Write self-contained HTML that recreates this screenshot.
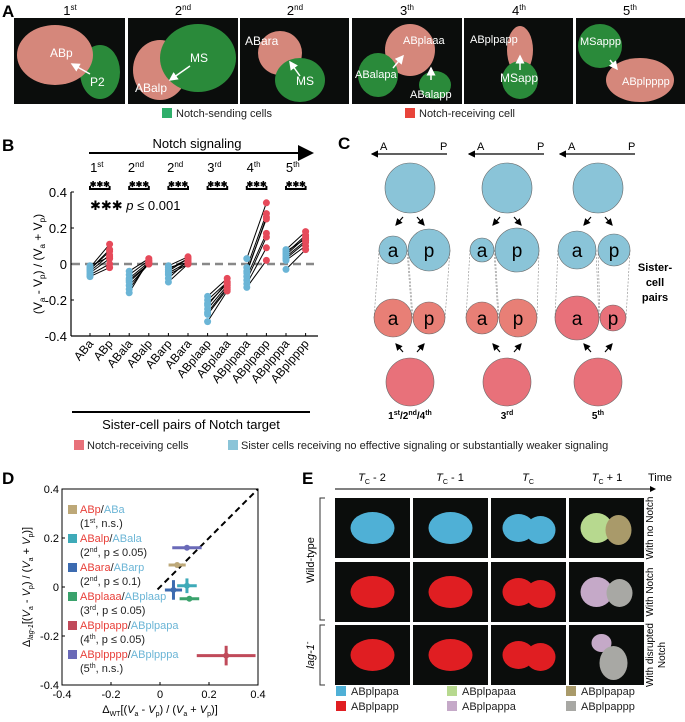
<!DOCTYPE html>
<html><head><meta charset="utf-8"><style>
body{margin:0;background:#fff;}
svg{display:block;font-family:"Liberation Sans",Arial,sans-serif;}
</style></head><body>
<svg id="fig" width="685" height="722" viewBox="0 0 685 722" xmlns="http://www.w3.org/2000/svg">
<defs>
<marker id="ah" markerWidth="8" markerHeight="8" refX="7" refY="4" orient="auto"><path d="M0,0 L8,4 L0,8 z" fill="#000"/></marker>
<marker id="ahs" markerWidth="6" markerHeight="6" refX="5" refY="3" orient="auto"><path d="M0,0 L6,3 L0,6 z" fill="#000"/></marker>
<marker id="ahw" markerWidth="6" markerHeight="6" refX="5" refY="3" orient="auto"><path d="M0,0 L6,3 L0,6 z" fill="#fff"/></marker>
</defs>

<!-- PANEL A -->
<g>
<text x="2" y="17" font-size="17" font-weight="bold">A</text>
<g font-size="13" text-anchor="middle">
<text x="70" y="15">1<tspan font-size="8" dy="-5">st</tspan></text>
<text x="183" y="15">2<tspan font-size="8" dy="-5">nd</tspan></text>
<text x="295" y="15">2<tspan font-size="8" dy="-5">nd</tspan></text>
<text x="407" y="15">3<tspan font-size="8" dy="-5">th</tspan></text>
<text x="519" y="15">4<tspan font-size="8" dy="-5">th</tspan></text>
<text x="630" y="15">5<tspan font-size="8" dy="-5">th</tspan></text>
</g>
<g><rect x="14" y="18" width="111" height="86" fill="#0b0d0c"/>
<ellipse cx="100" cy="72" rx="20" ry="27" fill="#2a8a3a"/><ellipse cx="55" cy="55" rx="38" ry="30" fill="#d5877b"/>
<text x="50" y="57" font-size="12" fill="#fff">ABp</text><text x="90" y="86" font-size="12" fill="#fff">P2</text>
<line x1="90" y1="74" x2="72" y2="64" stroke="#fff" stroke-width="1.5" marker-end="url(#ahw)"/></g>
<g><rect x="128" y="18" width="110" height="86" fill="#0b0d0c"/>
<ellipse cx="160" cy="70" rx="27" ry="30" fill="#d5877b"/><ellipse cx="198" cy="58" rx="38" ry="34" fill="#2a8a3a"/>
<text x="190" y="62" font-size="12" fill="#fff">MS</text><text x="135" y="92" font-size="12" fill="#fff">ABalp</text>
<line x1="190" y1="66" x2="170" y2="80" stroke="#fff" stroke-width="1.5" marker-end="url(#ahw)"/></g>
<g><rect x="240" y="18" width="109" height="86" fill="#0b0d0c"/>
<ellipse cx="280" cy="53" rx="22" ry="22" fill="#d5877b"/><ellipse cx="300" cy="80" rx="25" ry="22" fill="#2a8a3a"/>
<text x="245" y="45" font-size="12" fill="#fff">ABara</text><text x="296" y="85" font-size="12" fill="#fff">MS</text>
<line x1="300" y1="76" x2="290" y2="62" stroke="#fff" stroke-width="1.5" marker-end="url(#ahw)"/></g>
<g><rect x="352" y="18" width="110" height="86" fill="#0b0d0c"/>
<ellipse cx="410" cy="50" rx="25" ry="26" fill="#d5877b"/><ellipse cx="378" cy="75" rx="20" ry="22" fill="#2a8a3a"/><ellipse cx="435" cy="85" rx="16" ry="14" fill="#2a8a3a"/>
<text x="403" y="44" font-size="11" fill="#fff">ABplaaa</text><text x="355" y="78" font-size="11" fill="#fff">ABalapa</text><text x="410" y="98" font-size="11" fill="#fff">ABalapp</text>
<line x1="393" y1="68" x2="403" y2="56" stroke="#fff" stroke-width="1.5" marker-end="url(#ahw)"/><line x1="431" y1="80" x2="431" y2="68" stroke="#fff" stroke-width="1.5" marker-end="url(#ahw)"/></g>
<g><rect x="464" y="18" width="109" height="86" fill="#0b0d0c"/>
<ellipse cx="520" cy="50" rx="13" ry="24" fill="#d5877b"/><ellipse cx="520" cy="80" rx="18" ry="19" fill="#2a8a3a"/>
<text x="470" y="43" font-size="11" fill="#fff">ABplpapp</text><text x="500" y="82" font-size="12" fill="#fff">MSapp</text>
<line x1="520" y1="70" x2="520" y2="56" stroke="#fff" stroke-width="1.5" marker-end="url(#ahw)"/></g>
<g><rect x="576" y="18" width="109" height="86" fill="#0b0d0c"/>
<ellipse cx="600" cy="46" rx="22" ry="22" fill="#2a8a3a"/><ellipse cx="640" cy="80" rx="34" ry="22" fill="#d5877b"/>
<text x="580" y="45" font-size="11" fill="#fff">MSappp</text><text x="622" y="85" font-size="11" fill="#fff">ABplpppp</text>
<line x1="610" y1="60" x2="617" y2="69" stroke="#fff" stroke-width="1.5" marker-end="url(#ahw)"/></g>
<rect x="162" y="108" width="10" height="10" fill="#2eaf6a"/>
<text x="176" y="117" font-size="11" fill="#222">Notch-sending cells</text>
<rect x="405" y="108" width="10" height="10" fill="#e8443a"/>
<text x="419" y="117" font-size="11" fill="#222">Notch-receiving cell</text>
</g>

<!-- PANEL B -->
<g id="panelB">
<text x="2" y="151" font-size="17" font-weight="bold">B</text>
<text x="197" y="148" font-size="13" text-anchor="middle">Notch signaling</text>
<line x1="89" y1="153" x2="312" y2="153" stroke="#000" stroke-width="2" marker-end="url(#ah)"/>
<text x="90" y="210" font-size="13">✱✱✱  <tspan font-style="italic">p</tspan> ≤ 0.001</text>
<text transform="translate(42,264) rotate(-90)" font-size="12" text-anchor="middle">(V<tspan font-size="8" dy="3">a</tspan><tspan dy="-3"> - V</tspan><tspan font-size="8" dy="3">p</tspan><tspan dy="-3">) / (V</tspan><tspan font-size="8" dy="3">a</tspan><tspan dy="-3"> + V</tspan><tspan font-size="8" dy="3">p</tspan><tspan dy="-3">)</tspan></text>
<line x1="72" y1="412" x2="310" y2="412" stroke="#000" stroke-width="2"/>
<text x="191" y="429" font-size="13" text-anchor="middle">Sister-cell pairs of Notch target</text>
<rect x="74" y="440" width="10" height="10" fill="#e8717a"/>
<text x="87" y="449" font-size="11" fill="#222">Notch-receiving cells</text>
<rect x="228" y="440" width="10" height="10" fill="#8ac4d8"/>
<text x="241" y="449" font-size="11" fill="#222">Sister cells receiving no effective signaling or substantially weaker signaling</text>
</g>

<!-- PANEL C -->
<g id="panelC">
<text x="338" y="149" font-size="17" font-weight="bold">C</text>
<text x="655" y="271" font-size="11" font-weight="bold" text-anchor="middle">Sister-</text>
<text x="655" y="286" font-size="11" font-weight="bold" text-anchor="middle">cell</text>
<text x="655" y="301" font-size="11" font-weight="bold" text-anchor="middle">pairs</text>
</g>

<!-- PANEL D -->
<g id="panelD">
<text x="2" y="484" font-size="17" font-weight="bold">D</text>
</g>

<!-- PANEL E -->
<g id="panelE">
<text x="302" y="484" font-size="17" font-weight="bold">E</text>
<g font-size="11" text-anchor="middle">
<text x="372" y="481"><tspan font-style="italic">T</tspan><tspan font-size="7" dy="3">C</tspan><tspan dy="-3"> - 2</tspan></text>
<text x="450" y="481"><tspan font-style="italic">T</tspan><tspan font-size="7" dy="3">C</tspan><tspan dy="-3"> - 1</tspan></text>
<text x="528" y="481"><tspan font-style="italic">T</tspan><tspan font-size="7" dy="3">C</tspan></text>
<text x="607" y="481"><tspan font-style="italic">T</tspan><tspan font-size="7" dy="3">C</tspan><tspan dy="-3"> + 1</tspan></text>
<text x="660" y="481">Time</text>
</g>
<line x1="335" y1="489" x2="655" y2="489" stroke="#000" stroke-width="1" marker-end="url(#ahs)"/>
<path d="M325,498 L320,498 L320,620 L325,620" fill="none" stroke="#333"/>
<path d="M325,625 L320,625 L320,685 L325,685" fill="none" stroke="#333"/>
<text transform="translate(314,560) rotate(-90)" font-size="11" text-anchor="middle">Wild-type</text>
<text transform="translate(314,655) rotate(-90)" font-size="11" text-anchor="middle" font-style="italic">lag-1<tspan font-style="normal" font-size="8" dy="-4">-</tspan></text>
<text transform="translate(653,528) rotate(-90)" font-size="10" text-anchor="middle">With no Notch</text>
<text transform="translate(653,592) rotate(-90)" font-size="10" text-anchor="middle">With Notch</text>
<text transform="translate(653,655) rotate(-90)" font-size="10" text-anchor="middle">With disrupted</text>
<text transform="translate(665,655) rotate(-90)" font-size="10" text-anchor="middle">Notch</text>
</g>
</svg>
<script>
// ---------- Panel B data ----------
const bCategories = ["ABa","ABp","ABala","ABalp","ABarp","ABara","ABplaap","ABplaaa","ABplpapa","ABplpapp","ABplpppa","ABplpppp"];
const bStages = ["1","2","2","3","4","5"];
const bStageSup = ["st","nd","nd","rd","th","th"];
const bYTicks = [0.4,0.2,0,-0.2,-0.4];
const bYTickLabels = ["0.4","0.2","0","-0.2","-0.4"];
const sisterVals1 = [-0.02,-0.03,-0.04,-0.05,-0.06,-0.03,-0.07,-0.01];
const recvVals1 = [0.11,0.07,0.05,0.03,0.0,0.08,-0.02,0.04];
const sisterVals2 = [-0.04,-0.06,-0.08,-0.1,-0.12,-0.14,-0.16,-0.09];
const recvVals2 = [0.03,0.02,0.01,0.0,0.0,0.01,0.02,0.0];
const sisterVals3 = [-0.01,-0.03,-0.05,-0.06,-0.08,-0.1,-0.04,-0.02];
const recvVals3 = [0.04,0.03,0.01,0.0,0.02,0.0,0.03,0.01];
const sisterVals4 = [-0.18,-0.2,-0.22,-0.25,-0.27,-0.28,-0.32,-0.23];
const recvVals4 = [-0.08,-0.1,-0.11,-0.12,-0.13,-0.14,-0.15,-0.1];
const sisterVals5 = [0.03,-0.02,-0.05,-0.07,-0.09,-0.11,-0.13,-0.04];
const recvVals5 = [0.34,0.28,0.26,0.17,0.15,0.09,0.02,0.25];
const sisterVals6 = [0.08,0.06,0.05,0.04,0.03,0.02,-0.03,0.07];
const recvVals6 = [0.18,0.16,0.15,0.13,0.12,0.1,0.08,0.14];
const sisterGroups = [sisterVals1,sisterVals2,sisterVals3,sisterVals4,sisterVals5,sisterVals6];
const recvGroups = [recvVals1,recvVals2,recvVals3,recvVals4,recvVals5,recvVals6];

// ---------- Panel D data ----------
const dPairsRecv = ["ABp","ABalp","ABara","ABplaaa","ABplpapp","ABplpppp"];
const dPairsSister = ["ABa","ABala","ABarp","ABplaap","ABplpapa","ABplpppa"];
const dStageText = ["1","2","2","3","4","5"];
const dStageSup = ["st","nd","nd","rd","th","th"];
const dSigText = ["n.s.","p ≤ 0.05","p ≤ 0.1","p ≤ 0.05","p ≤ 0.05","n.s."];
const dColors = ["#bda878","#3eaab8","#3c6bb0","#3aa26c","#c04a5a","#6a6ab8"];
const dWT = [0.07,0.11,0.055,0.12,0.27,0.11];
const dLag = [0.09,0.005,-0.012,-0.048,-0.28,0.16];
const dWTErr = [0.035,0.04,0.035,0.04,0.12,0.06];
const dLagErr = [0.01,0.03,0.04,0.008,0.04,0.008];
const dTicks = [-0.4,-0.2,0,0.2,0.4];
const dTickLabels = ["-0.4","-0.2","0","0.2","0.4"];

const NS="http://www.w3.org/2000/svg";
function mk(parent,tag,attrs,txt){const e=document.createElementNS(NS,tag);for(const k in attrs)e.setAttribute(k,attrs[k]);if(txt!==undefined)e.textContent=txt;parent.appendChild(e);return e;}

// ---- B ----
(function(){
const g=document.getElementById('panelB');
const x0=90, dx=19.6;
const xB=i=>x0+i*dx;
const yB=v=>264-v*180;
mk(g,'line',{x1:71,y1:yB(0.4),x2:71,y2:yB(-0.4),stroke:'#000','stroke-width':1.2});
mk(g,'line',{x1:71,y1:yB(-0.4),x2:318,y2:yB(-0.4),stroke:'#000','stroke-width':1.2});
bYTicks.forEach((t,i)=>{
 const tk=mk(g,'line',{x1:71,y1:yB(t),x2:74,y2:yB(t),stroke:'#000'});
 
 
 const lb=mk(g,'text',{x:67,y:yB(t)+5,'font-size':13,'text-anchor':'end'},bYTickLabels[i]);
 
 
});
const zl=mk(g,'line',{x1:72,y1:yB(0),x2:318,y2:yB(0),stroke:'#888','stroke-width':2.5,'stroke-dasharray':'8,5'});


bCategories.forEach((c,i)=>{
 mk(g,'line',{x1:xB(i),y1:yB(-0.4),x2:xB(i),y2:yB(-0.4)-3,stroke:'#000'});
 const t=mk(g,'text',{transform:`translate(${xB(i)+4},${yB(-0.4)+8}) rotate(-50)`,'font-size':12,'text-anchor':'end'},c);
 
 
});
bStages.forEach((s,k)=>{
 const cx=(xB(2*k)+xB(2*k+1))/2;
 const t=mk(g,'text',{x:cx-3,y:172,'font-size':13,'text-anchor':'middle'},s);
 
 
 mk(t,'tspan',{'font-size':8,dy:-5},bStageSup[k]);
 const br=mk(g,'path',{d:`M${xB(2*k)},186 L${xB(2*k)},189 L${xB(2*k+1)},189 L${xB(2*k+1)},186`,fill:'none',stroke:'#000','stroke-width':2});
 
 
 const st=mk(g,'text',{x:cx,y:187,'font-size':8,'text-anchor':'middle','font-weight':'bold'},'✱✱✱');
 
 
});
sisterGroups.forEach((arr,k)=>{
 arr.forEach((v,j)=>{
  const ln=mk(g,'line',{x1:xB(2*k),y1:yB(v),x2:xB(2*k+1),y2:yB(recvGroups[k][j]),stroke:'#000','stroke-width':1});
  
  
 });
 arr.forEach((v,j)=>{
  const p=mk(g,'circle',{cx:xB(2*k),cy:yB(v),r:3.5,fill:'#6bb5d6'});
  
  
  const q=mk(g,'circle',{cx:xB(2*k+1),cy:yB(recvGroups[k][j]),r:3.5,fill:'#e64a5a'});
  
  
 });
});
})();

// ---- C ----
(function(){
const g=document.getElementById('panelC');
const cols=[410,507,598];
const blue=[[393,14,429,21],[482,12,517,22],[577,19,614,16]];
const red=[[393,19,429,16],[482,16,518,19],[577,22,613,13]];
cols.forEach((cx,i)=>{
 const ar=mk(g,'line',{x1:cx+37,y1:154,x2:cx-38,y2:154,stroke:'#000','stroke-width':1.2,'marker-end':'url(#ahs)'});
 
 
 mk(g,'text',{x:cx-30,y:150,'font-size':11},'A');
 mk(g,'text',{x:cx+30,y:150,'font-size':11},'P');
 const m=mk(g,'circle',{cx:cx,cy:188,r:25,fill:'#8ac4d8',stroke:'#666','stroke-width':0.6});
 
 
 mk(g,'line',{x1:cx-7,y1:217,x2:cx-14,y2:225,stroke:'#000','stroke-width':1.2,'marker-end':'url(#ahs)'});
 mk(g,'line',{x1:cx+7,y1:217,x2:cx+14,y2:225,stroke:'#000','stroke-width':1.2,'marker-end':'url(#ahs)'});
 const b=blue[i], r=red[i];
 [[b[0]-b[1],r[0]-r[1]],[b[0]+b[1],r[0]+r[1]],[b[2]-b[3],r[2]-r[3]],[b[2]+b[3],r[2]+r[3]]].forEach(p=>{
  mk(g,'line',{x1:p[0],y1:250,x2:p[1],y2:318,stroke:'#999','stroke-width':0.7,'stroke-dasharray':'2,1.5'});
 });
 [[b[0],b[1],'a'],[b[2],b[3],'p']].forEach(c=>{
  const e=mk(g,'circle',{cx:c[0],cy:250,r:c[1],fill:'#8ac4d8',stroke:'#666','stroke-width':0.6});
  
  
  mk(g,'text',{x:c[0],y:257,'font-size':19,'text-anchor':'middle'},c[2]);
 });
 [[r[0],r[1],'a'],[r[2],r[3],'p']].forEach(c=>{
  const e=mk(g,'circle',{cx:c[0],cy:318,r:c[1],fill:i==2?'#e8717a':'#e87f76',stroke:'#666','stroke-width':0.6});
  
  
  mk(g,'text',{x:c[0],y:325,'font-size':19,'text-anchor':'middle'},c[2]);
 });
 mk(g,'line',{x1:cx-7,y1:352,x2:cx-14,y2:344,stroke:'#000','stroke-width':1.2,'marker-end':'url(#ahs)'});
 mk(g,'line',{x1:cx+7,y1:352,x2:cx+14,y2:344,stroke:'#000','stroke-width':1.2,'marker-end':'url(#ahs)'});
 const mr=mk(g,'circle',{cx:cx,cy:382,r:24,fill:'#e8717a',stroke:'#666','stroke-width':0.6});
 
 
 const lt=mk(g,'text',{x:cx,y:419,'font-size':10,'font-weight':'bold','text-anchor':'middle'});
 
 
 if(i==0){lt.innerHTML='1<tspan font-size="7" dy="-4">st</tspan><tspan dy="4">/2</tspan><tspan font-size="7" dy="-4">nd</tspan><tspan dy="4">/4</tspan><tspan font-size="7" dy="-4">th</tspan>';}
 else if(i==1){lt.innerHTML='3<tspan font-size="7" dy="-4">rd</tspan>';}
 else {lt.innerHTML='5<tspan font-size="7" dy="-4">th</tspan>';}
});
})();

// ---- D ----
(function(){
const g=document.getElementById('panelD');
const xD=v=>160+v*245;
const yD=v=>587-v*245;
mk(g,'rect',{x:xD(-0.4),y:yD(0.4),width:196,height:196,fill:'none',stroke:'#000','stroke-width':1});
dTicks.forEach((t,i)=>{
 mk(g,'line',{x1:xD(t),y1:yD(-0.4),x2:xD(t),y2:yD(-0.4)-3,stroke:'#000'});
 const a=mk(g,'text',{x:xD(t),y:yD(-0.4)+13,'font-size':11,'text-anchor':'middle'},dTickLabels[i]);
 
 
 mk(g,'line',{x1:xD(-0.4),y1:yD(t),x2:xD(-0.4)+3,y2:yD(t),stroke:'#000'});
 const b=mk(g,'text',{x:xD(-0.4)-3,y:yD(t)+4,'font-size':11,'text-anchor':'end'},dTickLabels[i]);
 
 
});
const xt=mk(g,'text',{x:160,y:713,'font-size':11,'text-anchor':'middle'});


xt.innerHTML='Δ<tspan font-size="7" dy="3">WT</tspan><tspan dy="-3">[(</tspan><tspan font-style="italic">V</tspan><tspan font-size="7" dy="3">a</tspan><tspan dy="-3"> - </tspan><tspan font-style="italic">V</tspan><tspan font-size="7" dy="3">p</tspan><tspan dy="-3">) / (</tspan><tspan font-style="italic">V</tspan><tspan font-size="7" dy="3">a</tspan><tspan dy="-3"> + </tspan><tspan font-style="italic">V</tspan><tspan font-size="7" dy="3">p</tspan><tspan dy="-3">)]</tspan>';
const yt=mk(g,'text',{transform:'translate(30,587) rotate(-90)','font-size':11,'text-anchor':'middle'});


yt.innerHTML='Δ<tspan font-size="7" dy="3" font-style="italic">lag-1</tspan><tspan dy="-3">[(</tspan><tspan font-style="italic">V</tspan><tspan font-size="7" dy="3">a</tspan><tspan dy="-3"> - </tspan><tspan font-style="italic">V</tspan><tspan font-size="7" dy="3">p</tspan><tspan dy="-3">) / (</tspan><tspan font-style="italic">V</tspan><tspan font-size="7" dy="3">a</tspan><tspan dy="-3"> + </tspan><tspan font-style="italic">V</tspan><tspan font-size="7" dy="3">p</tspan><tspan dy="-3">)]</tspan>';
const dg=mk(g,'line',{x1:xD(-0.01),y1:yD(-0.01),x2:xD(0.4),y2:yD(0.4),stroke:'#000','stroke-width':2,'stroke-dasharray':'6,4'});


dPairsRecv.forEach((r,i)=>{
 const y0=513+i*29;
 const sw=mk(g,'rect',{x:68,y:y0-8,width:9,height:9,fill:dColors[i]});
 
 
 const t=mk(g,'text',{x:80,y:y0,'font-size':11});
 
 
 mk(t,'tspan',{fill:'#e8403a'},r);
 mk(t,'tspan',{fill:'#222'},'/');
 mk(t,'tspan',{fill:'#6bb5d6'},dPairsSister[i]);
 const s=mk(g,'text',{x:80,y:y0+14,'font-size':11,fill:'#222'});
 
 
 s.appendChild(document.createTextNode('('+dStageText[i]));
 mk(s,'tspan',{'font-size':7,dy:-4},dStageSup[i]);
 mk(s,'tspan',{dy:4},', '+dSigText[i]+')');
 const m=mk(g,'g',{});
 
 
 mk(m,'line',{x1:xD(dWT[i]-dWTErr[i]),y1:yD(dLag[i]),x2:xD(dWT[i]+dWTErr[i]),y2:yD(dLag[i]),stroke:dColors[i],'stroke-width':3});
 mk(m,'line',{x1:xD(dWT[i]),y1:yD(dLag[i]-dLagErr[i]),x2:xD(dWT[i]),y2:yD(dLag[i]+dLagErr[i]),stroke:dColors[i],'stroke-width':3});
 mk(m,'circle',{cx:xD(dWT[i]),cy:yD(dLag[i]),r:3,fill:dColors[i]});
});
})();

// ---- E ----
(function(){
const g=document.getElementById('panelE');
const cx=[335,413,491,569], cy=[498,562,625];
const W=75,H=60;
const blob=(x,y,rx,ry,c,name)=>{const e=mk(g,'ellipse',{cx:x,cy:y,rx:rx,ry:ry,fill:c});};
cy.forEach((y,r)=>cx.forEach((x,c)=>{
 const b=mk(g,'rect',{x:x,y:y,width:W,height:H,fill:'#0b0d0c'});
 
 
 const mx=x+W/2,my=y+H/2;
 if(c<3){
  const col=r==0?'#4fb0d6':'#e01e22';
  if(c==2){blob(mx-10,my,16,14,col,'cell-shape');blob(mx+12,my+2,15,14,col,'cell-shape');}
  else blob(mx,my,22,16,col,'cell-shape');
 } else {
  if(r==0){blob(mx-10,my,16,15,'#b7d98f','cell-shape');blob(mx+12,my+2,13,15,'#a99a6a','cell-shape');}
  else if(r==1){blob(mx-10,my,16,15,'#c5a9c8','cell-shape');blob(mx+13,my+1,13,14,'#a8a8a4','cell-shape');}
  else {blob(mx-5,my-12,10,9,'#c5a9c8','cell-shape');blob(mx+7,my+8,14,17,'#a8a8a4','cell-shape');}
 }
}));
const leg=[["#4fb0d6","ABplpapa",336,695],["#e01e22","ABplpapp",336,710],["#b7d98f","ABplpapaa",447,695],["#c5a9c8","ABplpappa",447,710],["#a99a6a","ABplpapap",566,695],["#a8a8a4","ABplpappp",566,710]];
leg.forEach(l=>{
 const s=mk(g,'rect',{x:l[2],y:l[3]-9,width:10,height:10,fill:l[0]});
 
 
 const t=mk(g,'text',{x:l[2]+15,y:l[3],'font-size':11,fill:'#222'},l[1]);
 
 
});
})();
</script>
</body></html>
